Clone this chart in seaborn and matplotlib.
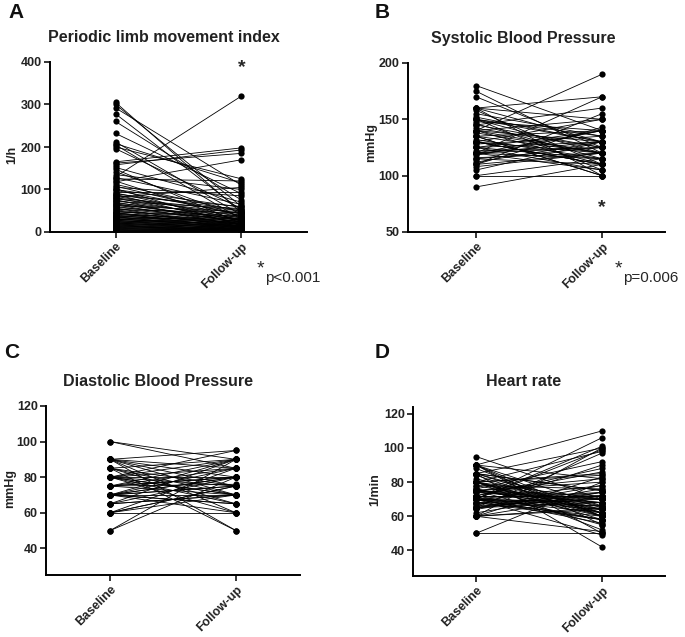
import numpy as np
import pandas as pd
import matplotlib
matplotlib.use("Agg")
import matplotlib.pyplot as plt
import seaborn as sns

# time points
groups = ["Baseline", "Follow-up"]

# A - periodic limb movement index (1/h)
plmi_base = [305, 300, 292, 278, 260, 232, 212, 208, 205, 200, 196, 165, 162, 158, 152, 148, 142, 135, 130, 128,
             125, 120, 118, 112, 108, 105, 102, 100, 98, 95, 92, 90, 88, 86, 84, 82, 80, 78, 76, 74,
             72, 70, 68, 66, 64, 62, 60, 58, 56, 55, 53, 52, 50, 48, 47, 45, 44, 42, 41, 40,
             38, 37, 36, 35, 34, 33, 32, 30, 29, 28, 27, 26, 25, 24, 23, 22, 21, 20, 19, 18,
             17, 16, 15, 14, 13, 12, 11, 10, 9, 8, 7, 6, 5, 4, 3, 2, 80, 65, 45, 30]
plmi_fu = [45, 60, 110, 50, 75, 90, 40, 115, 30, 125, 55, 198, 185, 193, 70, 20, 35, 100, 320, 65,
           120, 25, 170, 48, 38, 85, 15, 58, 42, 95, 28, 52, 18, 60, 36, 105, 26, 44, 12, 33,
           55, 22, 40, 30, 16, 48, 24, 35, 10, 28, 45, 20, 14, 32, 38, 8, 25, 18, 30, 12,
           22, 26, 6, 20, 15, 30, 10, 18, 24, 5, 14, 20, 12, 8, 16, 4, 10, 14, 6, 12,
           3, 9, 2, 8, 5, 7, 3, 6, 2, 4, 3, 1, 2, 1, 2, 1, 50, 30, 20, 15]

# B - systolic blood pressure (mmHg)
sbp_base = [180, 175, 170, 160, 160, 160, 158, 155, 152, 150, 150, 148, 146, 145, 142, 140, 140, 140, 138, 135,
            135, 132, 130, 130, 130, 128, 125, 125, 122, 120, 120, 120, 120, 118, 116, 115, 115, 112, 110, 110,
            108, 105, 100, 100, 90, 150, 140, 130, 125, 120, 145, 135, 160, 110, 140, 130, 120, 150, 125, 135]
sbp_fu = [140, 120, 125, 100, 170, 150, 110, 135, 130, 120, 105, 140, 115, 160, 125, 190, 110, 130, 120, 140,
          100, 115, 150, 120, 110, 135, 140, 130, 125, 170, 115, 105, 130, 140, 120, 125, 110, 130, 155, 143,
          120, 130, 100, 115, 110, 135, 120, 110, 115, 140, 125, 100, 130, 120, 150, 110, 125, 130, 105, 120]

# C - diastolic blood pressure (mmHg)
dbp_base = [100, 100, 90, 90, 90, 90, 90, 85, 85, 85, 80, 80, 80, 80, 80, 80, 75, 75, 75, 75,
            70, 70, 70, 70, 70, 70, 70, 65, 65, 65, 60, 60, 60, 60, 50, 50, 90, 80, 70, 85,
            75, 65, 80, 70, 60, 90, 80, 75, 70, 85]
dbp_fu = [90, 85, 80, 70, 60, 95, 75, 90, 70, 50, 85, 75, 65, 90, 70, 60, 80, 70, 90, 76,
          80, 85, 75, 65, 90, 60, 70, 80, 70, 90, 60, 70, 85, 75, 80, 90, 50, 80, 75, 65,
          85, 70, 95, 80, 75, 85, 70, 80, 65, 75]

# D - heart rate (1/min)
hr_base = [95, 90, 90, 90, 90, 85, 85, 85, 85, 80, 80, 80, 80, 80, 80, 76, 76, 75, 75, 75,
           75, 72, 72, 70, 70, 70, 70, 70, 70, 70, 68, 68, 65, 65, 65, 60, 60, 60, 60, 50,
           50, 90, 85, 80, 75, 70, 65, 60, 80, 72, 70, 75, 68, 78, 82, 74, 66, 88, 62, 70,
           75, 80, 85, 70, 65, 72, 78, 60, 90, 70, 76, 80, 68, 74, 70, 64, 84, 72, 70, 66]
hr_fu = [70, 110, 60, 50, 82, 100, 65, 75, 42, 98, 58, 70, 62, 85, 52, 60, 92, 68, 80, 55,
         64, 72, 88, 106, 101, 66, 58, 74, 49, 62, 70, 60, 78, 68, 97, 51, 65, 83, 72, 50,
         80, 66, 75, 60, 70, 56, 74, 64, 62, 86, 68, 72, 58, 76, 64, 68, 70, 60, 74, 99,
         82, 66, 62, 78, 72, 58, 64, 100, 55, 68, 62, 84, 66, 70, 58, 76, 60, 72, 64, 90]


def to_long(base, fu):
    n = len(base)
    return pd.DataFrame({
        "subject": list(range(n)) * 2,
        "time": [0] * n + [1] * n,
        "value": list(base) + list(fu),
    })


sns.set_style("ticks")
plt.rcParams['font.family'] = ['Liberation Sans', 'DejaVu Sans']

W, H = 685, 637
fig = plt.figure(figsize=(W / 100, H / 100), dpi=100)


def px_axes(left, top, right, bottom):
    return fig.add_axes([left / W, 1 - bottom / H, (right - left) / W, (bottom - top) / H])


panels = [
    # letter, title, ylabel, data, axes box px, ylim, yticks, xlim, title pos, letter pos, ylabel pos
    ("A", "Periodic limb movement index", "1/h", (plmi_base, plmi_fu), (50, 62, 307, 232),
     (0, 400), [0, 100, 200, 300, 400], (-0.52, 1.52), (164, 38), (16, 12), (12, 155)),
    ("B", "Systolic Blood Pressure", "mmHg", (sbp_base, sbp_fu), (408, 63, 665, 232),
     (50, 200), [50, 100, 150, 200], (-0.54, 1.5), (523, 38), (382, 12), (371, 143)),
    ("C", "Diastolic Blood Pressure", "mmHg", (dbp_base, dbp_fu), (46, 406, 300, 575),
     (25, 120), [40, 60, 80, 100, 120], (-0.51, 1.51), (158, 381), (12, 353), (10, 489)),
    ("D", "Heart rate", "1/min", (hr_base, hr_fu), (413, 407, 665, 576),
     (25, 124), [40, 60, 80, 100, 120], (-0.5, 1.5), (524, 382), (382, 353), (375, 490)),
]

axes = {}
for letter, title, ylab, (b, f), box, ylim, yticks, xlim, tpos, lpos, ypos in panels:
    ax = px_axes(*box)
    df = to_long(b, f)
    sns.lineplot(data=df, x="time", y="value", units="subject", estimator=None,
                 color="black", lw=0.6, marker="o", markersize=4.5, markeredgewidth=0,
                 legend=False, ax=ax)
    ax.set_xlim(*xlim)
    ax.set_ylim(*ylim)
    ax.set_yticks(yticks)
    ax.set_xticks([0, 1])
    ax.set_xticklabels(groups, rotation=45, ha="right", rotation_mode="anchor")
    ax.set_xlabel("")
    ax.set_ylabel("")
    sns.despine(ax=ax)
    for s in ["left", "bottom"]:
        ax.spines[s].set_linewidth(1.4)
        ax.spines[s].set_color("black")
    ax.tick_params(axis="both", length=4, width=1.1, color="black", labelsize=9, pad=2)
    for lab in ax.get_xticklabels() + ax.get_yticklabels():
        lab.set_fontweight("bold")
        lab.set_color("#222222")
    fig.text(tpos[0] / W, 1 - tpos[1] / H, title, ha="center", va="center",
             fontsize=11.5, fontweight="bold", color="#222222")
    fig.text(lpos[0] / W, 1 - lpos[1] / H, letter, ha="center", va="center",
             fontsize=15, fontweight="bold", color="#111111")
    fig.text(ypos[0] / W, 1 - ypos[1] / H, ylab, ha="center", va="center", rotation=90,
             fontsize=9, fontweight="bold", color="#222222")
    axes[letter] = ax

# significance marks
axes["A"].text(1, 388, "*", ha="center", va="center", fontsize=14, fontweight="bold")
axes["B"].text(1, 72, "*", ha="center", va="center", fontsize=14, fontweight="bold")
fig.text(260 / W, 1 - 269 / H, "*", ha="center", va="center", fontsize=14)
fig.text(265 / W, 1 - 278 / H, "p<0.001", ha="left", va="center", fontsize=11)
fig.text(618 / W, 1 - 269 / H, "*", ha="center", va="center", fontsize=14)
fig.text(623 / W, 1 - 278 / H, "p=0.006", ha="left", va="center", fontsize=11)

fig.savefig("out.png", dpi=100)
